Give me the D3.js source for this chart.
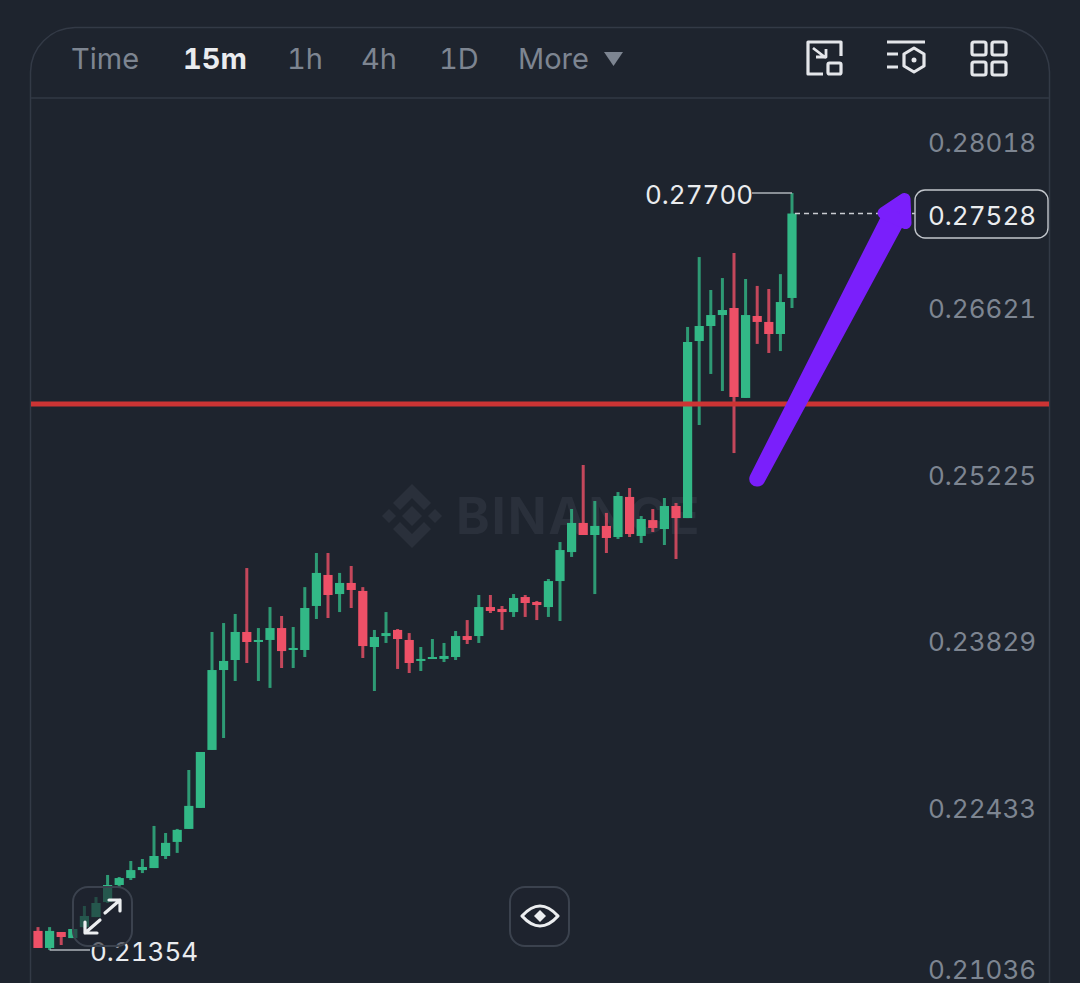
<!DOCTYPE html>
<html>
  <head>
    <meta charset="utf-8">
    <title>15m chart</title>
    <script src="https://d3js.org/d3.v7.min.js"></script>
    <style>
      html, body { margin: 0; padding: 0; background: #1e242e; overflow: hidden; }
      svg { display: block; font-family: Inter, "Open Sans", sans-serif; }
      .num { font-variant-numeric: tabular-nums; font-feature-settings: "tnum"; }
    </style>
  </head>
  <body>
    <svg width="1080" height="983"></svg>
    <script>
      // candles (oldest first)
      var opens = [.21514,.21371,.21505,.21454,.21546,.21630,.21756,.21899,.21957,.22024,.22041,.22142,.22260,.22369,.22545,.23031,.23701,.23785,.24020,.23936,.23953,.24053,.23869,.23869,.24238,.24498,.24338,.24431,.24364,.23894,.23986,.24037,.23953,.23777,.23794,.23794,.23810,.23986,.23986,.24229,.24213,.24187,.24313,.24271,.24229,.24447,.24690,.24934,.24833,.24909,.24816,.25152,.24825,.24958,.24883,.25076,.24975,.26459,.26585,.26677,.26736,.25982,.26669,.26619,.26518,.26820];
      var highs = [.21546,.21546,.21505,.21530,.21723,.21798,.21983,.21966,.22100,.22117,.22394,.22335,.22369,.22863,.23014,.24020,.24095,.24171,.24556,.24053,.24229,.24154,.24062,.24396,.24682,.24682,.24515,.24573,.24396,.24037,.24187,.24045,.24011,.23894,.23961,.23928,.24028,.24120,.24330,.24330,.24238,.24338,.24330,.24280,.24464,.24774,.25051,.25420,.25118,.25018,.25193,.25227,.24992,.25051,.25143,.25101,.26577,.27163,.26887,.26987,.27197,.26979,.26921,.26895,.27020,.27700];
      var lows = [.21371,.21354,.21396,.21454,.21538,.21630,.21748,.21882,.21941,.21999,.22041,.22117,.22168,.22369,.22545,.23031,.23131,.23609,.23760,.23609,.23551,.23718,.23718,.23810,.24129,.24137,.24187,.24221,.23802,.23525,.23928,.23710,.23676,.23693,.23794,.23768,.23785,.23919,.23928,.24179,.24037,.24146,.24146,.24120,.24146,.24112,.24649,.24833,.24338,.24682,.24800,.24816,.24766,.24858,.24749,.24632,.24975,.25755,.26183,.26040,.25520,.25982,.26435,.26359,.26375,.26736];
      var closes = [.21371,.21514,.21463,.21530,.21639,.21748,.21899,.21957,.22024,.22050,.22142,.22252,.22361,.22562,.23014,.23701,.23777,.24020,.23936,.23953,.24053,.23860,.23886,.24221,.24515,.24330,.24431,.24372,.23902,.23978,.24011,.23961,.23760,.23794,.23810,.23819,.23986,.23953,.24229,.24196,.24187,.24305,.24263,.24246,.24447,.24707,.24934,.24833,.24909,.24808,.25160,.24841,.24967,.24892,.25076,.24975,.26451,.26585,.26677,.26719,.25990,.26677,.26619,.26518,.26786,.27528];

      var tickLabels = [0.28018, 0.26621, 0.25225, 0.23829, 0.22433, 0.21036];
      var tabs = ["Time", "15m", "1h", "4h", "1D", "More"];
      var tabX = [71, 183, 287, 361, 439, 518];

      var lastPrice = 0.27528;
      var highPrice = 0.27700;
      var lowPrice = 0.21354;
      var levelPrice = 0.25931;
      // arrow drawn on the screenshot: candle index, price
      var arrowFrom = [62, 0.25303];
      var arrowTo = [74.7, 0.27683];

      var green = "#32b886", red = "#ee5067", bg = "#1e242e";

      var svg = d3.select("svg");
      var x = d3.scaleLinear().domain([0, opens.length - 1]).range([38, 792]);
      var y = d3.scaleLinear().domain([lowPrice, highPrice]).range([950, 193]);

      // card outline
      svg.append("path")
        .attr("d", "M30.5,983V72A45,45 0 0 1 75,27.5H1005A45,45 0 0 1 1049.5,72V983")
        .attr("fill", "none").attr("stroke", "#333a46").attr("stroke-width", 1.5);
      svg.append("line").attr("x1", 31).attr("x2", 1049).attr("y1", 98).attr("y2", 98)
        .attr("stroke", "#2c333e").attr("stroke-width", 2);

      // tabs
      svg.selectAll(".tab").data(tabs).enter().append("text")
        .attr("class", "tab num")
        .attr("x", function(d, i) { return tabX[i]; })
        .attr("y", 69)
        .attr("font-size", 29)
        .attr("font-weight", function(d) { return d == "15m" ? 700 : 400; })
        .attr("fill", function(d) { return d == "15m" ? "#eaecef" : "#7d8591"; })
        .text(function(d) { return d; });
      svg.append("path").attr("d", "M604,52H623L613.5,66Z").attr("fill", "#7d8591");

      // toolbar icons
      var icons = svg.append("g").attr("fill", "none").attr("stroke", "#e4e6ea")
        .attr("stroke-width", 3.2).attr("stroke-linejoin", "round");
      icons.append("path").attr("d", "M841,56V42H808V74H823");
      icons.append("rect").attr("x", 828).attr("y", 63).attr("width", 13).attr("height", 11).attr("rx", 1.5);
      icons.append("path").attr("d", "M813,48L826,58M816,57H826V49").attr("stroke-width", 2.8);
      icons.append("path").attr("d", "M887,42H925M887,54H898M887,67H898");
      icons.append("path").attr("d", "M914,48L924,54V66L914,72L904,66V54Z");
      icons.append("circle").attr("cx", 914).attr("cy", 60).attr("r", 2.5).attr("fill", "#e4e6ea").attr("stroke", "none");
      [[972, 42], [992, 42], [972, 62], [992, 62]].forEach(function(p) {
        icons.append("rect").attr("x", p[0]).attr("y", p[1]).attr("width", 14).attr("height", 13).attr("rx", 2);
      });

      // watermark
      var mark = svg.append("g").attr("fill", "#2a303b");
      var cx = 412, cy = 516;
      mark.append("path").attr("d", "M" + (cx - 10) + "," + cy + "l10,-10l10,10l-10,10Z");
      mark.append("path").attr("d", "M" + (cx - 30) + "," + cy + "l7,-7l7,7l-7,7Z");
      mark.append("path").attr("d", "M" + (cx + 16) + "," + cy + "l7,-7l7,7l-7,7Z");
      mark.append("path").attr("d", "M" + (cx - 19) + "," + (cy - 13) + "l19,-19l19,19l-7,7l-12,-12l-12,12Z");
      mark.append("path").attr("d", "M" + (cx - 19) + "," + (cy + 13) + "l19,19l19,-19l-7,-7l-12,12l-12,-12Z");
      svg.append("text").attr("x", 456).attr("y", 534).attr("font-size", 51).attr("font-weight", 700)
        .attr("letter-spacing", 1.8).attr("fill", "#2a303b").text("BINANCE");

      // candles
      var candles = svg.append("g").selectAll("g").data(opens).enter().append("g");
      candles.append("line")
        .attr("x1", function(d, i) { return x(i); })
        .attr("x2", function(d, i) { return x(i); })
        .attr("y1", function(d, i) { return y(highs[i]); })
        .attr("y2", function(d, i) { return y(lows[i]); })
        .attr("stroke-width", 3)
        .attr("stroke-opacity", 0.8)
        .attr("stroke", function(d, i) { return closes[i] >= d ? green : red; });
      candles.append("rect")
        .attr("x", function(d, i) { return x(i) - 4.6; })
        .attr("width", 9.2)
        .attr("y", function(d, i) { return y(Math.max(d, closes[i])); })
        .attr("height", function(d, i) { return Math.max(2, Math.abs(y(d) - y(closes[i]))); })
        .attr("fill", function(d, i) { return closes[i] >= d ? green : red; });

      // right price axis: labels sit above their level, the last one is pulled up at the edge
      var axis = d3.axisRight(y).tickValues(tickLabels).tickSize(0).tickFormat(d3.format(".5f"));
      var axisG = svg.append("g").attr("transform", "translate(928,0)").call(axis);
      axisG.select(".domain").remove();
      axisG.selectAll("text")
        .attr("class", "num")
        .attr("x", 0)
        .attr("dy", function(d) { return d == 0.21036 ? -9 : -4; })
        .attr("font-family", "Inter, sans-serif")
        .attr("font-size", 26)
        .attr("fill", "#7d8591");

      // red level line
      svg.append("line").attr("x1", 31).attr("x2", 1049)
        .attr("y1", y(levelPrice)).attr("y2", y(levelPrice))
        .attr("stroke", "#cc3434").attr("stroke-width", 5);

      // last price
      svg.append("line").attr("x1", x(65) + 3).attr("x2", 915)
        .attr("y1", y(lastPrice)).attr("y2", y(lastPrice))
        .attr("stroke", "#c9ccd1").attr("stroke-width", 1.4).attr("stroke-dasharray", "5 4");
      svg.append("rect").attr("x", 915).attr("y", 190).attr("width", 133).attr("height", 48).attr("rx", 10)
        .attr("fill", bg).attr("stroke", "#c2c6cc").attr("stroke-width", 1.4);
      svg.append("text").attr("class", "num").attr("x", 928).attr("y", y(lastPrice)).attr("dy", 11)
        .attr("font-size", 26).attr("fill", "#eaecef").text(lastPrice.toFixed(5));

      // high / low callouts
      svg.append("path")
        .attr("d", "M752," + y(highPrice) + "H" + x(65))
        .attr("fill", "none").attr("stroke", "#aeb3ba").attr("stroke-width", 1.6);
      svg.append("text").attr("class", "num").attr("x", 645).attr("y", y(highPrice)).attr("dy", 11)
        .attr("font-size", 26).attr("fill", "#eaecef").text(highPrice.toFixed(5));
      svg.append("path")
        .attr("d", "M" + x(1) + "," + y(lowPrice) + "H90")
        .attr("fill", "none").attr("stroke", "#aeb3ba").attr("stroke-width", 1.6);
      svg.append("text").attr("class", "num").attr("x", 90).attr("y", y(lowPrice)).attr("dy", 11)
        .attr("font-size", 26).attr("fill", "#eaecef").text(lowPrice.toFixed(5));

      // purple arrow
      var ax0 = x(arrowFrom[0]), ay0 = y(arrowFrom[1]), ax1 = x(arrowTo[0]), ay1 = y(arrowTo[1]);
      var arrow = svg.append("g").attr("fill", "#7a1ffb").attr("stroke", "#7a1ffb").attr("stroke-linejoin", "round");
      arrow.append("path")
        .attr("d", "M" + (ax0 - 0.5) + "," + ay0 + "L" + (ax1 - 17) + "," + (ay1 + 25) + "L" + (ax1 - 9) + "," + (ay1 + 29) + "L" + (ax0 + 0.5) + "," + ay0 + "Z")
        .attr("stroke-width", 15);
      arrow.append("path")
        .attr("d", "M" + ax1 + "," + (ay1 + 4) + "L" + (ax1 - 21) + "," + (ay1 + 18) + "L" + (ax1 + 1) + "," + (ay1 + 28) + "Z")
        .attr("stroke-width", 12);

      // round buttons on the chart
      function button(bx) {
        return svg.append("rect").attr("x", bx).attr("y", 887).attr("width", 59).attr("height", 59).attr("rx", 15)
          .attr("fill", bg).attr("fill-opacity", 0.65).attr("stroke", "#3b424e").attr("stroke-width", 2);
      }
      button(73);
      button(510);

      var wh = svg.append("g").attr("fill", "none").attr("stroke", "#eceef0").attr("stroke-width", 3.2)
        .attr("stroke-linecap", "round").attr("stroke-linejoin", "round");
      wh.append("path").attr("d", "M85,933L100,920M85,922V933H97");
      wh.append("path").attr("d", "M105,913L120,900M109,900H120V911");
      wh.append("path").attr("d", "M522,916Q540,896 558,916Q540,936 522,916Z");
      svg.append("path").attr("d", "M540,910l6,6l-6,6l-6,-6Z").attr("fill", "#eceef0");
    </script>
  </body>
</html>
